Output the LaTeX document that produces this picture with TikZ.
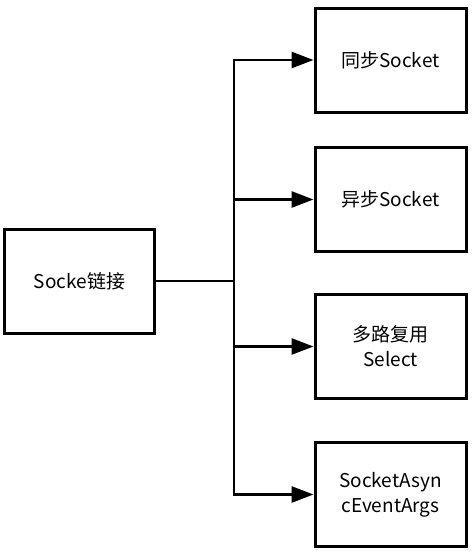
\documentclass[tikz,border=0pt]{standalone}
\usepackage{fontspec}
\setmainfont{Noto Sans CJK SC}
\usetikzlibrary{arrows.meta}
\tikzset{
  box/.style={draw, line width=3pt, minimum width=151pt, minimum height=104pt,
    align=center, inner sep=2pt, font=\fontsize{19}{25}\selectfont},
  link/.style={line width=2.8pt, -{Triangle[length=22pt,width=16pt]}}
}
\begin{document}
\begin{tikzpicture}[x=1pt,y=-1pt]
        \useasboundingbox (0,0) rectangle (474,554);
        %root
        \node[box, minimum width=150pt] (root) at (79.5,281) {Socke链接};

        %branches
        \node[box] (sync) at (390.5,60) {同步Socket};
        \node[box] (async) at (390.5,199.5) {异步Socket};
        \node[box] (select) at (390.5,346.5) {多路复用\\Select};
        \node[box] (saea) at (390.5,494.5) {SocketAsyn\\cEventArgs};

        %trunk
        \coordinate (trunk) at (234,281);
        \draw[line width=2.8pt] (root.east) -- (trunk);

        %arrows
        \draw[link] (trunk) |- (sync.west);
        \draw[link] (trunk) |- (async.west);
        \draw[link] (trunk) |- (select.west);
        \draw[link] (trunk) |- (saea.west);
    \end{tikzpicture}
\end{document}
